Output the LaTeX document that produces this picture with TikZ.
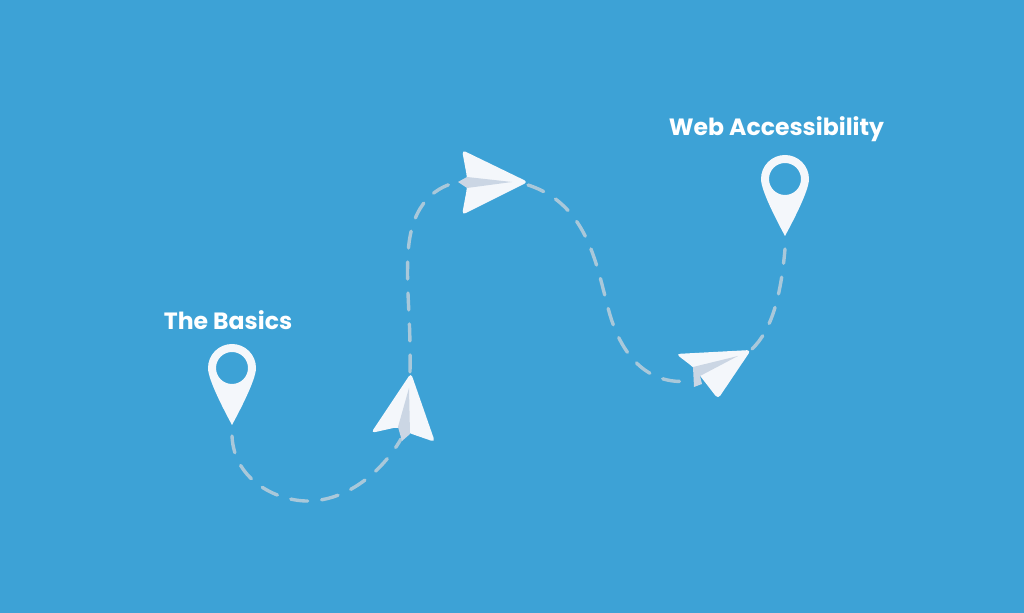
\documentclass[tikz,border=0pt]{standalone}
\usepackage{fontspec}
\setmainfont{Poppins}
\definecolor{skyback}{HTML}{3DA2D6}
\definecolor{paperwhite}{HTML}{F4F7FB}
\definecolor{paperfold}{HTML}{CBD6E4}
\definecolor{trailgray}{HTML}{A9C8DA}
\begin{document}
\begin{tikzpicture}[x=0.01cm, y=-0.01cm,
  wing/.style = {
    fill = paperwhite,
    rounded corners = 0.04cm,
  },
  crease/.style = {
    fill = paperfold,
  },
  trail/.style = {
    draw = trailgray,
    line width = 0.034cm,
    line cap = round,
    dash pattern = on 0.17cm off 0.14cm,
  },
  place/.style = {
    text = white,
    font = \fontsize{6.7pt}{9pt}\selectfont\bfseries,
    inner sep = 0,
  },
  pin/.pic = {
    \fill[paperwhite, even odd rule]
      (-24, 0) arc[start angle=180, end angle=360, radius=24]
      .. controls (24, 12) and (7, 44) .. (0, 57)
      .. controls (-7, 44) and (-24, 12) .. (-24, 0) -- cycle
      (0, 0) circle[radius=16];
  },
]
\fill[skyback] (0, 0) rectangle (1024, 613);
\useasboundingbox (0, 0) rectangle (1024, 613);

\coordinate (startpin) at (232, 368);
\coordinate (endpin) at (785, 179);
\coordinate (starttip) at (232, 436);
\coordinate (endtip) at (785, 249);
\coordinate (planeAin) at (401, 439);
\coordinate (planeAout) at (410, 372);
\coordinate (planeBin) at (458, 182);
\coordinate (planeBout) at (528, 185);
\coordinate (planeCin) at (690, 381);
\coordinate (planeCout) at (752, 349);

\node[place] (basics) at (228, 320) {The Basics};
\node[place] (access) at (776.5, 129.5) {Web Accessibility};
\pic at (startpin) {pin};
\pic at (endpin) {pin};

\draw[trail] (starttip) .. controls (234, 482) and (280, 502) .. (310, 501)
  .. controls (345, 500) and (380, 475) .. (planeAin);
\draw[trail] (planeAout) .. controls (411, 320) and (406, 290) .. (408, 255)
  .. controls (410, 210) and (430, 188) .. (planeBin);
\draw[trail] (planeBout) .. controls (590, 205) and (597, 270) .. (610, 315)
  .. controls (625, 365) and (655, 385) .. (planeCin);
\draw[trail] (planeCout) .. controls (772, 330) and (781, 295) .. (endtip);

\fill[wing] (411, 373) -- (435, 442) -- (409, 433) -- (398, 427) -- (371, 433) -- cycle;
\fill[crease] (409, 388) -- (398, 427) -- (402, 441) -- (410, 434) -- cycle;

\fill[wing] (528, 182) -- (462, 150) -- (467, 177) -- (467, 188) -- (462, 215) -- cycle;
\fill[crease] (512, 182) -- (467, 177) -- (458, 182) -- (467, 188) -- cycle;

\fill[wing] (751, 350) -- (676, 354) -- (693, 367) -- (701, 377) -- (718, 399) -- cycle;
\fill[crease] (738, 356) -- (693, 367) -- (694, 387) -- (702, 384) -- (700, 376) -- cycle;
\end{tikzpicture}
\end{document}
